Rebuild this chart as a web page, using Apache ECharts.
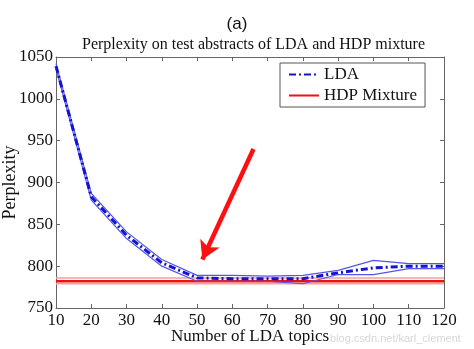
<!DOCTYPE html>
<html><head><meta charset="utf-8">
<script src="https://cdn.jsdelivr.net/npm/echarts@6/dist/echarts.min.js"></script>
<style>html,body{margin:0;padding:0;background:#fff}#c{width:474px;height:349px}</style>
</head><body><div id="c"></div>
<script>
const topics = [10,20,30,40,50,60,70,80,90,100,110,120];
const ldaMean  = [1039,883,837,804,786,785,785,785,792,798,800,800];
const ldaUpper = [1042,887,841,808,789,789,788,789,795,807,803,803];
const ldaLower = [1036,879,833,800,782,782,782,779,790,790,797,797];
const hdpMean = 782;
const hdpUpper = 786;
const hdpLower = 779;
const arrowFrom = [66, 940];
const arrowTo = [51.5, 808];

const serif = '"Liberation Serif","DejaVu Serif",serif';
const pair = a => topics.map((t,i)=>[t,a[i]]);
const flat = v => topics.map(t=>[t,v]);
const axisCol = '#666';

const chart = echarts.init(document.getElementById('c'), null, {renderer:'canvas'});
chart.setOption({
  animation:false,
  backgroundColor:'#fff',
  title:[
    {text:'(a)', left:'center', top:11, textStyle:{fontFamily:'"Liberation Sans",Arial,sans-serif', fontSize:17, fontWeight:'normal', color:'#111'}},
    {text:'Perplexity on test abstracts of LDA and HDP mixture', left:77, top:32, textStyle:{fontFamily:serif, fontSize:16, fontWeight:'normal', color:'#111'}},
    {text:'blog.csdn.net/karl_clement', left:325, top:328, textStyle:{fontFamily:'"Liberation Sans",Arial,sans-serif', fontSize:11, fontWeight:'normal', color:'rgba(205,205,205,0.8)'}}
  ],
  grid:{left:56, right:30, top:57, bottom:41, show:false, containLabel:false, outerBoundsMode:'none'},
  legend:{
    data:['LDA','HDP Mixture'], orient:'vertical', left:280, top:63,
    backgroundColor:'#fff', borderColor:'#555', borderWidth:1, padding:[3,8,3,8],
    itemWidth:30, itemHeight:10, itemGap:4,
    itemStyle:{opacity:0},
    textStyle:{fontFamily:serif, fontSize:17, color:'#111'}
  },
  xAxis:[{
    type:'value', min:10, max:120, interval:10,
    name:'Number of LDA topics', nameLocation:'middle', nameGap:20, nameMoveOverlap:false,
    nameTextStyle:{fontFamily:serif, fontSize:17, color:'#111'},
    axisLine:{show:true, onZero:false, lineStyle:{color:axisCol}},
    axisTick:{show:true, inside:true, length:4, lineStyle:{color:axisCol}},
    axisLabel:{fontFamily:serif, fontSize:17, color:'#111', margin:4},
    splitLine:{show:false}
  },{
    type:'value', min:10, max:120, interval:10, position:'top',
    axisLine:{show:true, onZero:false, lineStyle:{color:axisCol}},
    axisTick:{show:true, inside:true, length:4, lineStyle:{color:axisCol}},
    axisLabel:{show:false}, splitLine:{show:false}
  }],
  yAxis:[{
    type:'value', min:750, max:1050, interval:50,
    name:'Perplexity', nameLocation:'middle', nameGap:37, nameMoveOverlap:false,
    nameTextStyle:{fontFamily:serif, fontSize:18, color:'#111'},
    axisLine:{show:true, onZero:false, lineStyle:{color:axisCol}},
    axisTick:{show:true, inside:true, length:4, lineStyle:{color:axisCol}},
    axisLabel:{fontFamily:serif, fontSize:17, color:'#111', margin:3, formatter:v=>String(v)},
    splitLine:{show:false}
  },{
    type:'value', min:750, max:1050, interval:50, position:'right',
    axisLine:{show:true, onZero:false, lineStyle:{color:axisCol}},
    axisTick:{show:true, inside:true, length:4, lineStyle:{color:axisCol}},
    axisLabel:{show:false}, splitLine:{show:false}
  }],
  series:[
    {name:'hdpU', type:'line', data:flat(hdpUpper), symbol:'none', silent:true, lineStyle:{color:'#f4a0a0', width:1.5}},
    {name:'hdpL', type:'line', data:flat(hdpLower), symbol:'none', silent:true, lineStyle:{color:'#f4a0a0', width:1.5}},
    {name:'HDP Mixture', type:'line', data:flat(hdpMean), symbol:'none', itemStyle:{color:'#ee1111'}, lineStyle:{color:'#ee1111', width:2.5}},
    {name:'ldaU', type:'line', data:pair(ldaUpper), symbol:'none', silent:true, lineStyle:{color:'#5555e8', width:1.2}},
    {name:'ldaL', type:'line', data:pair(ldaLower), symbol:'none', silent:true, lineStyle:{color:'#5555e8', width:1.2}},
    {name:'LDA', type:'line', data:pair(ldaMean), symbol:'none', z:5, itemStyle:{color:'#1414d0'},
     lineStyle:{color:'#1414d0', width:3, type:[7,3,2,3]},
     markLine:{silent:true, symbol:['none','arrow'], symbolSize:[16,18], animation:false,
       label:{show:false},
       lineStyle:{color:'#ff1010', width:4.5, type:'solid'},
       data:[[{coord:arrowFrom},{coord:arrowTo}]]}}
  ]
});
</script></body></html>
